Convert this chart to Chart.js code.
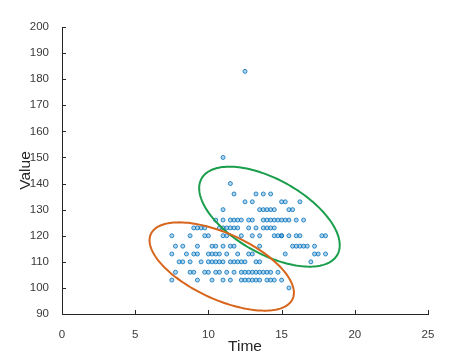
<!DOCTYPE html>
<html>
<head>
<meta charset="utf-8">
<script src="https://cdn.jsdelivr.net/npm/chart.js@4/dist/chart.umd.min.js"></script>
<style>
  html, body { margin: 0; padding: 0; background: #ffffff; }
  #wrap { width: 474px; height: 355px; }
</style>
</head>
<body>
<div id="wrap"><canvas id="c" width="474" height="355"></canvas></div>
<script>
// ---- Data ----
const valueLevels = [100, 103, 106, 110, 113, 116, 120, 123, 126, 130, 133, 136, 140, 150, 183];
const timesAtLevel = [
  [15.5],
  [7.5, 9.25, 10.25, 11, 11.5, 12.25, 12.5, 12.75, 13, 13.25, 13.5, 14, 14.25, 14.5, 15],
  [7.75, 8.75, 9, 9.75, 10, 10.5, 10.75, 11.25, 11.75, 12.25, 12.5, 12.75, 13, 13.25, 13.5, 13.75, 14, 14.25, 14.75],
  [8, 8.25, 8.75, 9.5, 10, 10.25, 10.5, 10.75, 11, 11.5, 11.75, 12, 12.25, 12.5, 13.25, 13.5, 17],
  [7.5, 8.5, 9, 9.25, 10, 10.25, 10.5, 10.75, 11.25, 12, 12.75, 13, 15.25, 17.25, 17.5, 18],
  [7.75, 8.25, 9.25, 10.25, 10.5, 11, 11.5, 11.75, 13.5, 15.75, 16, 16.25, 16.5, 16.75, 17.25],
  [7.5, 8.75, 9.75, 10, 11, 11.25, 12.25, 13, 13.5, 14.5, 14.75, 15, 15, 15.5, 16, 16.25, 17.75, 18],
  [9, 9.25, 9.5, 9.75, 10.75, 11, 11.25, 11.5, 11.75, 12, 12.75, 13.25, 13.75, 14, 14.25, 14.5],
  [10.5, 11, 11.5, 11.75, 12, 12.25, 12.75, 13, 13.75, 14, 14.25, 14.5, 14.75, 15, 15.25, 15.5, 16, 16.5],
  [11, 13.5, 13.75, 14, 14.25, 14.5, 15.5, 15.75],
  [12.5, 13, 15, 15.25, 16.25],
  [11.75, 13.25, 13.75, 14.25],
  [11.5],
  [11],
  [12.5]
];
const xTicks = [0, 5, 10, 15, 20, 25];
const yTicks = [90, 100, 110, 120, 130, 140, 150, 160, 170, 180, 190, 200];

// Cluster ellipses (data units): centre time, centre value, sd time, sd value, correlation
const ellipseTime  = [14.17, 10.91];
const ellipseValue = [127.3, 108.2];
const ellipseSdT   = [4.80, 4.93];
const ellipseSdV   = [19.16, 16.92];
const ellipseRho   = [-0.569, -0.593];
const ellipseColor = ['#1a9e4c', '#d7651c'];

// ---- Build points ----
const points = [];
valueLevels.forEach((v, i) => timesAtLevel[i].forEach(t => points.push({x: t, y: v})));

const FONT = '"Liberation Sans", Arial, Helvetica, sans-serif';
const AX = '#262626';
const TXT = '#3a3a3a';

const ellipsePlugin = {
  id: 'ellipses',
  afterDatasetsDraw(chart) {
    const {ctx, scales: {x, y}} = chart;
    ctx.save();
    for (let k = 0; k < ellipseTime.length; k++) {
      const r = ellipseRho[k];
      ctx.beginPath();
      for (let i = 0; i <= 180; i++) {
        const t = i / 180 * Math.PI * 2;
        const dx = ellipseSdT[k] * Math.cos(t);
        const dy = ellipseSdV[k] * (r * Math.cos(t) + Math.sqrt(1 - r * r) * Math.sin(t));
        const px = x.getPixelForValue(ellipseTime[k] + dx);
        const py = y.getPixelForValue(ellipseValue[k] + dy);
        if (i === 0) ctx.moveTo(px, py); else ctx.lineTo(px, py);
      }
      ctx.closePath();
      ctx.strokeStyle = ellipseColor[k];
      ctx.lineWidth = 2;
      ctx.stroke();
    }
    ctx.restore();
  }
};

const inwardTicks = {
  id: 'inwardTicks',
  afterDraw(chart) {
    const {ctx, scales: {x, y}} = chart;
    const L = 4;
    ctx.save();
    ctx.strokeStyle = AX;
    ctx.lineWidth = 1;
    ctx.beginPath();
    xTicks.forEach(v => {
      const px = Math.round(x.getPixelForValue(v)) + 0.5;
      ctx.moveTo(px, y.bottom); ctx.lineTo(px, y.bottom - L);
    });
    yTicks.forEach(v => {
      const py = Math.round(y.getPixelForValue(v)) + 0.5;
      ctx.moveTo(x.left, py); ctx.lineTo(x.left + L, py);
    });
    ctx.stroke();
    ctx.restore();
  }
};

new Chart(document.getElementById('c'), {
  type: 'scatter',
  data: {
    datasets: [{
      data: points,
      pointRadius: 2,
      pointBorderWidth: 1,
      pointBorderColor: 'rgba(0,114,189,0.8)',
      pointBackgroundColor: 'rgba(0,114,189,0.3)'
    }]
  },
  options: {
    responsive: false,
    animation: false,
    layout: { padding: { top: 27, right: 46, left: 0, bottom: 0 } },
    plugins: { legend: { display: false }, tooltip: { enabled: false } },
    scales: {
      x: {
        type: 'linear', min: 0, max: 25,
        afterBuildTicks: s => { s.ticks = xTicks.map(v => ({value: v})); },
        afterFit: s => { s.height = 41; },
        grid: { display: false },
        border: { display: true, color: AX, width: 1 },
        ticks: { color: TXT, font: { family: FONT, size: 11.5 }, padding: 6, maxRotation: 0 },
        title: { display: true, text: 'Time', color: AX, font: { family: FONT, size: 15.5 }, padding: { top: 0, bottom: -1 } }
      },
      y: {
        type: 'linear', min: 90, max: 200,
        afterBuildTicks: s => { s.ticks = yTicks.map(v => ({value: v})); },
        afterFit: s => { s.width = 62; },
        grid: { display: false },
        border: { display: true, color: AX, width: 1 },
        ticks: { color: TXT, font: { family: FONT, size: 11.5 }, padding: 5 },
        title: { display: true, text: 'Value', color: AX, font: { family: FONT, size: 15.5 }, padding: { top: 16, bottom: 0 } }
      }
    }
  },
  plugins: [ellipsePlugin, inwardTicks]
});
</script>
</body>
</html>
